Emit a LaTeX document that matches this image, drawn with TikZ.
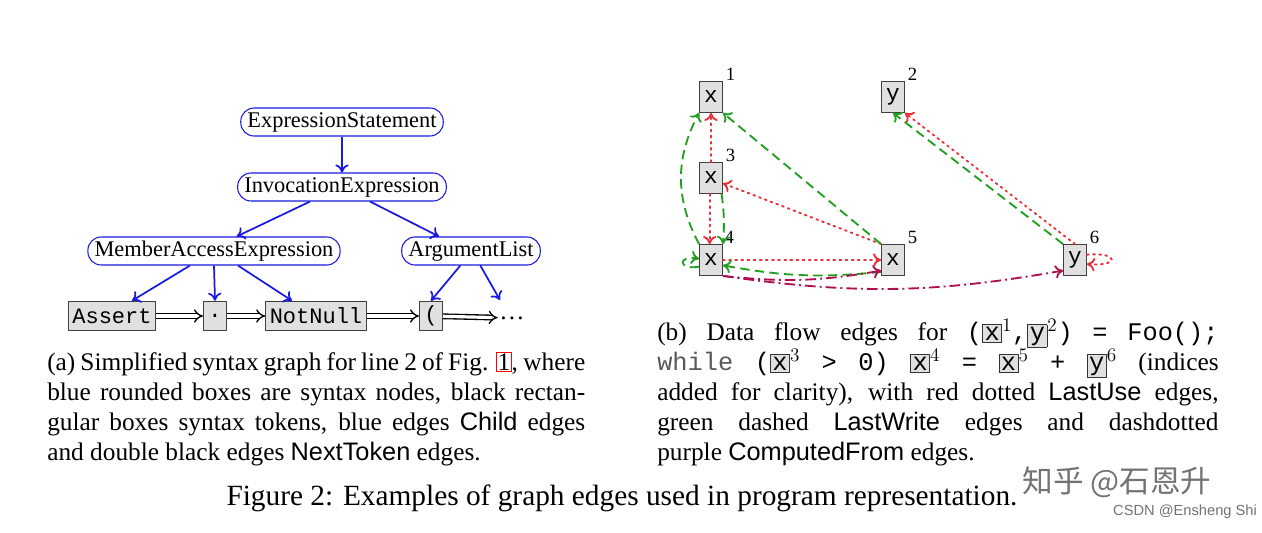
\documentclass[tikz,border=0pt]{standalone}
\usepackage{fontspec}
\setmainfont{Liberation Serif}
\setsansfont{Liberation Sans}
\setmonofont{Liberation Mono}
\newfontfamily\cjk{Noto Sans CJK SC}
\usetikzlibrary{arrows.meta}
\definecolor{bl}{RGB}{25,25,225}
\definecolor{lu}{RGB}{232,48,58}
\definecolor{lw}{RGB}{34,160,34}
\definecolor{cf}{RGB}{176,16,80}
\newcommand{\tk}[1]{{\setlength\fboxsep{1.2pt}\setlength\fboxrule{0.6pt}\fcolorbox{black!80}{black!12}{\ttfamily #1}}}
\newcommand{\capfont}{\fontsize{19pt}{22.5pt}\selectfont}
\begin{document}
\begin{tikzpicture}[x=0.75pt,y=-0.75pt,
  synt/.style={draw=bl,line width=0.8pt,rounded corners=10pt,fill=white,font=\fontsize{16.8pt}{19pt}\selectfont,inner xsep=5pt,inner ysep=2pt,minimum height=21pt},
  tok/.style={draw=black!75,line width=0.9pt,fill=black!12,font=\ttfamily\fontsize{16.5pt}{19pt}\selectfont,inner xsep=3pt,inner ysep=1pt,minimum height=22pt},
  vt/.style={draw=black!75,line width=0.9pt,fill=black!12,font=\ttfamily\fontsize{17pt}{19pt}\selectfont,inner sep=1pt,minimum width=17pt,minimum height=23pt},
  sup/.style={font=\fontsize{14pt}{16pt}\selectfont,inner sep=0pt},
  ch/.style={draw=bl,line width=1.3pt,-{To[length=6pt,width=10pt]}},
  nt/.style={draw=black,double,double distance=2.4pt,line width=1pt,-{Implies[length=5pt,width=10pt]}},
  luse/.style={draw=lu,line width=1.4pt,dash pattern=on 1.4pt off 3.2pt,line cap=round,-{To[length=6pt,width=10pt]}},
  lwr/.style={draw=lw,line width=1.4pt,dash pattern=on 7pt off 4pt,-{To[length=6pt,width=10pt]}},
  cfr/.style={draw=cf,line width=1.4pt,dash pattern=on 8pt off 3pt on 1.5pt off 3pt,-{To[length=6pt,width=10pt]}},
  capt/.style={inner sep=0pt,anchor=base west,font=\capfont}]
\useasboundingbox (0,0) rectangle (1262,532);
% left graph
\node[synt] (es) at (342,122) {ExpressionStatement};
\node[synt] (ie) at (342,187) {InvocationExpression};
\node[synt] (ma) at (214,251) {MemberAccessExpression};
\node[synt] (al) at (471,251) {ArgumentList};
\node[tok] (as) at (112,316) {Assert};
\node[tok,minimum width=17pt] (dt) at (215,316) {.};
\node[tok] (nn) at (316,316) {NotNull};
\node[tok,minimum width=17pt] (lp) at (431,316) {(};
\node[inner sep=1pt,font=\capfont] (dd) at (512,318) {\dots};
\draw[ch] (es) -- (ie);
\draw[ch] ([xshift=-24pt]ie.south) -- ([xshift=17pt]ma.north);
\draw[ch] ([xshift=21pt]ie.south) -- ([xshift=-24pt]al.north);
\draw[ch] ([xshift=-18pt]ma.south) -- ([xshift=15pt]as.north);
\draw[ch] (ma.south) -- (dt.north);
\draw[ch] ([xshift=18pt]ma.south) -- ([xshift=-18pt]nn.north);
\draw[ch] ([xshift=-8pt]al.south) -- (lp.north);
\draw[ch] ([xshift=7pt]al.south) -- (500,300);
\draw[nt] (as) -- (dt);
\draw[nt] (dt) -- (nn);
\draw[nt] (nn) -- (lp);
\draw[nt] (lp) -- (dd);
% right graph
\node[vt] (x1) at (711,97) {x}; \node[sup,anchor=south west] at ([xshift=2pt]x1.north east) {1};
\node[vt] (y2) at (893,97) {y}; \node[sup,anchor=south west] at ([xshift=2pt]y2.north east) {2};
\node[vt] (x3) at (711,178) {x}; \node[sup,anchor=south west] at ([xshift=2pt]x3.north east) {3};
\node[vt] (x4) at (711,260) {x}; \node[sup,anchor=south west] at ([xshift=1pt]x4.north east) {4};
\node[vt] (x5) at (893,260) {x}; \node[sup,anchor=south west] at ([xshift=2pt]x5.north east) {5};
\node[vt] (y6) at (1075,260) {y}; \node[sup,anchor=south west] at ([xshift=2pt]y6.north east) {6};
\draw[luse] (x3.north) -- (x1.south);
\draw[luse] ([xshift=-1pt]x3.south) -- ([xshift=-1pt]x4.north);
\draw[luse] (x5.north west) -- ([yshift=-4pt]x3.east);
\draw[luse] (x4.east) -- (x5.west);
\draw[luse] (y6.north) -- (y2.south east);
\draw[luse] ([yshift=4pt]y6.east) to[out=5,in=-5,looseness=9] ([yshift=-3pt]y6.east);
\draw[lwr] (x4.north west) to[bend left=28] (x1.south west);
\draw[lwr] ([xshift=-1pt]x3.south east) to[bend left=6] (x4.north east);
\draw[lwr] ([yshift=-5pt]x4.west) to[out=190,in=170,looseness=7] ([yshift=1pt]x4.west);
\draw[lwr] (x5.north west) -- (x1.south east);
\draw[lwr] ([yshift=3pt]x5.south west) to[bend left=8] ([yshift=-4pt]x4.east);
\draw[lwr] (y6.north west) -- (y2.south);
\draw[cfr] (x4.south east) to[bend right=8] ([yshift=4pt]x5.south west);
\draw[cfr] (x4.south east) to[bend right=9] ([yshift=4pt]y6.south west);
% captions
\node[capt] at (47,370) {\makebox[403.5pt][s]{(a) Simplified syntax graph for line 2 of Fig. {\setlength\fboxsep{0.5pt}\setlength\fboxrule{0.5pt}\fcolorbox{red}{white}{1}}, where}};
\node[capt] at (47,400) {\makebox[403.5pt][s]{blue rounded boxes are syntax nodes, black rectan-}};
\node[capt] at (47,430) {\makebox[403.5pt][s]{gular boxes syntax tokens, blue edges \textsf{Child} edges}};
\node[capt] at (47,460) {and double black edges \textsf{NextToken} edges.};
\node[capt] at (657,340) {\makebox[421pt][s]{(b) Data flow edges for \texttt{(}\tk{x}$^1$\texttt{,}\tk{y}$^2$\texttt{)} \texttt{=} \texttt{Foo();}}};
\node[capt] at (657,370) {\makebox[421pt][s]{\texttt{\color{black!65}while} \texttt{(}\tk{x}$^3$ \texttt{>} \texttt{0)} \tk{x}$^4$ \texttt{=} \tk{x}$^5$ \texttt{+} \tk{y}$^6$ (indices}};
\node[capt] at (657,400) {\makebox[421pt][s]{added for clarity), with red dotted \textsf{LastUse} edges,}};
\node[capt] at (657,430) {\makebox[421pt][s]{green dashed \textsf{LastWrite} edges and dashdotted}};
\node[capt] at (657,460) {purple \textsf{ComputedFrom} edges.};
\node[inner sep=0pt,anchor=base,font=\fontsize{22pt}{24pt}\selectfont] at (622,505) {Figure 2: Examples of graph edges used in program representation.};
\node[inner sep=0pt,font=\cjk\fontsize{23pt}{25pt}\selectfont,text=black!55] at (1117,482) {知乎 @石恩升};
\node[inner sep=0pt,font=\sffamily\fontsize{11pt}{13pt}\selectfont,text=black!55] at (1185,512) {CSDN @Ensheng Shi};
\end{tikzpicture}
\end{document}
